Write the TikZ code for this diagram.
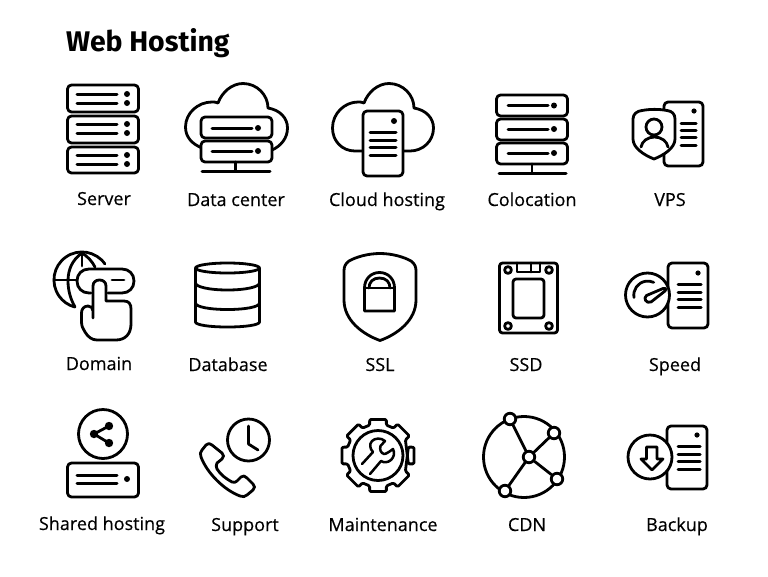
\documentclass[tikz,border=0pt]{standalone}
\usepackage{fontspec}
\setmainfont{Open Sans}
\newfontfamily\labfont[FakeBold=0.4]{Open Sans}
\newfontfamily\titlefont{Fira Sans}
\tikzset{
  ic/.style={line width=2.8pt,line cap=round,line join=round,black},
  hic/.style={line width=3pt,line cap=round,line join=round,black},
  thin ic/.style={line width=2.5pt,line cap=round,line join=round,black},
  lab/.style={font=\labfont\fontsize{18}{20}\selectfont,text=black,inner sep=0pt,anchor=base},
  ttl/.style={font=\titlefont\bfseries\fontsize{28.4}{30}\selectfont,text=black,inner sep=0pt,anchor=base west},
  dotf/.style={fill=black,draw=none},
  cdnnode/.style={circle,draw=black,line width=2.8pt,fill=white,inner sep=0pt,minimum size=11.5pt},
}
\newcommand{\rbox}[5][4pt]{\draw[ic,rounded corners=#1,fill=white] (#2,#3) rectangle (#4,#5);}
\newcommand{\hl}[3]{\foreach \yy in {#3} {\draw[hic] (#1,\yy) -- (#2,\yy);}}
\newcommand{\pdot}[3][3]{\fill[dotf] (#2,#3) circle (#1);}
\begin{document}
\begin{tikzpicture}[x=1pt,y=-1pt]
\useasboundingbox (0,0) rectangle (768,576);
\fill[white] (0,0) rectangle (768,576);
\node[ttl] (title) at (66,51) {Web Hosting};

% Server
\foreach \t/\b/\a/\c in {85/112/94/103,116/143/124/133,147/173/155/164}{
  \rbox{67.5}{\t}{138.5}{\b}
  \hl{77}{117}{\a,\c}
  \pdot{127}{\a}\pdot{127}{\c}
}
\node[lab] (l1) at (104,205) {Server};

% Data center
\draw[ic] (202,148) .. controls (192,144) and (185.5,137) .. (185.5,127) .. controls (185.5,113) and (198,102) .. (212,102) .. controls (214,102) and (216,102) .. (218,103) .. controls (222,92) and (232,83.5) .. (243,83.5) .. controls (257,83.5) and (268,95) .. (268,108) .. controls (280,110) and (287.5,118) .. (287.5,128) .. controls (287.5,138) and (281,146) .. (272,150);
\foreach \t/\b/\a in {117/138/128,141/162/151}{
  \rbox{201}{\t}{272}{\b}
  \hl{212}{252}{\a}
  \pdot{258}{\a}
}
\draw[ic] (235.5,162) -- (235.5,171);
\draw[hic] (202,171) -- (270,171);
\node[lab] (l2) at (236,206) {Data center};

% Cloud hosting
\draw[ic] (363,151) -- (355,151) .. controls (342,151) and (332.5,141) .. (332.5,128) .. controls (332.5,113) and (345,102) .. (358,102) .. controls (360,102) and (362,102) .. (364,103) .. controls (368,92) and (378,83.5) .. (389,83.5) .. controls (403,83.5) and (414,95) .. (414,108) .. controls (426,110) and (433.5,118) .. (433.5,128) .. controls (433.5,141) and (423,151) .. (410,151) -- (403,151);
\rbox{363}{111}{403}{176}
\pdot{394}{121}
\hl{370}{396}{132,140,147,155}
\node[lab] (l3) at (387,206) {Cloud hosting};

% Colocation
\foreach \t/\b/\a in {95/116/105.5,119/140/129,143/164/153}{
  \rbox{496.5}{\t}{567.5}{\b}
  \hl{508}{548}{\a}
  \pdot{554}{\a}
}
\draw[ic] (532,164) -- (532,173);
\draw[hic] (499,173) -- (566,173);
\node[lab] (l4) at (532,206) {Colocation};

% VPS
\rbox{664}{102}{703}{166}
\pdot[2.6]{694}{111}
\hl{681}{696}{123,130,137,145}
\draw[ic,fill=white] (642,110.5) .. controls (650,109) and (659,109) .. (667,110.5) .. controls (672,111) and (675,114) .. (675,119) -- (675,139) .. controls (675,148) and (664,155) .. (654,159) .. controls (644,155) and (633,148) .. (633,139) -- (633,119) .. controls (633,114) and (637,111) .. (642,110.5) -- cycle;
\draw[ic] (654,127) circle (8);
\draw[ic] (641,147) .. controls (642,141) and (648,137) .. (654.5,137) .. controls (661,137) and (667,141) .. (668,147);
\node[lab] (l5) at (670,206) {VPS};

% Domain
\draw[ic] (104.9,263.9) arc[start angle=35,end angle=255,radius=28pt];
\draw[ic] (54,280) -- (77,280);
\draw[ic] (82,253) -- (82,266);
\draw[ic] (82,253) .. controls (72,260) and (68,270) .. (68,281) .. controls (68,291) and (71,300) .. (75,307);
\draw[ic] (82,253) .. controls (87,256) and (92,261) .. (95,267);
\draw[ic] (91,293) -- (89,293) .. controls (82,293) and (77,288) .. (77,281) .. controls (77,274) and (82,269) .. (89,269) -- (122,269) .. controls (129,269) and (134,274) .. (134,281) .. controls (134,288) and (129,293) .. (122,293) -- (108,293);
\draw[ic] (112,280) -- (124,280);
\draw[ic,fill=white] (93,318) -- (93,286) .. controls (93,282) and (96,280) .. (99.5,280) .. controls (103,280) and (106,282) .. (106,286) -- (106,301) -- (124,301) .. controls (129,301) and (131,304) .. (131,309) -- (131,324) .. controls (131,334) and (125,340) .. (116,340) -- (97,340) .. controls (92,340) and (88,337) .. (85,332) .. controls (83,329) and (81.5,326) .. (81.5,322) -- (81.5,313) .. controls (81.5,309) and (84,306) .. (88,306) .. controls (91,306) and (93,308) .. (93,311);
\node[lab] (l6) at (99,370) {Domain};

% Database
\draw[ic] (195.5,268) -- (195.5,322) .. controls (195.5,325) and (210,327) .. (227.5,327) .. controls (245,327) and (259.5,325) .. (259.5,322) -- (259.5,268);
\draw[ic] (227.5,268) ellipse [x radius=32,y radius=5];
\draw[ic] (195.5,283) .. controls (195.5,287) and (210,290) .. (227.5,290) .. controls (245,290) and (259.5,287) .. (259.5,283);
\draw[ic] (195.5,303) .. controls (195.5,307) and (210,309.5) .. (227.5,309.5) .. controls (245,309.5) and (259.5,307) .. (259.5,303);
\node[lab] (l7) at (228,371) {Database};

% SSL
\draw[ic] (380,253.5) .. controls (392,253.5) and (404,257) .. (411,261) .. controls (415,264) and (416,267) .. (416,271) -- (416,300) .. controls (416,320) and (398,334) .. (380,340.5) .. controls (362,334) and (344,320) .. (344,300) -- (344,271) .. controls (344,267) and (345,264) .. (349,261) .. controls (356,257) and (368,253.5) .. (380,253.5) -- cycle;
\draw[ic] (364.5,311) -- (364.5,288) .. controls (364.5,279) and (371,272.5) .. (379.5,272.5) .. controls (388,272.5) and (394.5,279) .. (394.5,288) -- (394.5,311) -- cycle;
\draw[ic] (369,288) .. controls (369,282) and (373,278) .. (379.5,278) .. controls (386,278) and (390,282) .. (390,288);
\draw[ic] (364.5,288) -- (394.5,288);
\node[lab] (l8) at (380,371) {SSL};

% SSD
\rbox[3pt]{499.5}{263}{557.5}{333}
\rbox[3pt]{513}{279}{544}{318}
\draw[ic] (517,263) -- (517,272) -- (540,272) -- (540,263);
\draw[ic] (531,263) -- (531,272);
\foreach \p/\q in {508/270,549/270,508/326,549/326}{\draw[ic] (\p,\q) circle (3.4);}
\node[lab] (l9) at (526,371) {SSD};

% Speed
\rbox{668}{263}{708}{328}
\pdot[2.6]{698}{273}
\hl{678}{701}{284,292,299,307}
\draw[ic,fill=white] (647.5,295) circle (22);
\draw[ic] (634,297.5) arc[start angle=190,end angle=65,radius=14pt];
\draw[ic] (646.5,295.5) -- (663,288.5) .. controls (666,288) and (667,289.5) .. (665,291) -- (651,302) .. controls (646,304) and (643,298) .. (646.5,295.5) -- cycle;
\node[lab] (l10) at (675,371) {Speed};

% Shared hosting
\draw[ic] (103,434) circle (24.5);
\draw[ic] (109,426) -- (94,434) -- (109,443);
\pdot[4.2]{94}{434}\pdot[4.2]{109}{426}\pdot[4.2]{109}{443}
\rbox{67.5}{463}{138.5}{497}
\hl{77}{117}{475,483}
\pdot{127}{479}
\node[lab] (l11) at (102,530) {Shared hosting};

% Support
\draw[ic] (248.5,440) circle (21);
\draw[ic] (248.5,426) -- (248.5,444) -- (258,450);
\draw[ic] (206,445) .. controls (208,443) and (210,443) .. (212,445) -- (222,453) .. controls (224,455) and (224,457) .. (222,459) -- (217,463) .. controls (216,465) and (216,467) .. (217,469) .. controls (221,475) and (225,478) .. (232,482) .. controls (234,483) and (236,482) .. (237,481) -- (241,477) .. controls (243,475) and (245,476) .. (247,478) -- (253,484) .. controls (255,486) and (255,488) .. (253,490) -- (247,495) .. controls (245,497) and (243,497) .. (240,496) .. controls (224,490) and (207,473) .. (201,457) .. controls (200,454) and (200,452) .. (202,450) -- cycle;
\node[lab] (l12) at (245,531) {Support};

% Maintenance
\begin{scope}[shift={(378,455.5)}]
\draw[ic,rounded corners=1.2pt] (15.5:31.5) -- (13:37) -- (-13:37) -- (-15.5:31.5)
  \foreach \a in {45,90,135,180,225,270,315} { -- (\a-15.5:31.5) -- (\a-13:37) -- (\a+13:37) -- (\a+15.5:31.5) } -- cycle;
\draw[ic] (0,0) circle (25);
\end{scope}
\draw[thin ic] (362,464) -- (373,452) .. controls (370,449) and (369,444) .. (372,441) .. controls (375,438) and (381,437.5) .. (385,441) -- (380.5,446) .. controls (379.5,449) and (380.5,453) .. (384,454) .. controls (386,454) and (389,452) .. (393,449) .. controls (395,453) and (394,457) .. (391,460) .. controls (388,462.5) and (384,463) .. (381,461) -- (370,474);
\node[lab] (l13) at (383,531) {Maintenance};

% CDN
\draw[ic] (524,457) circle (40.5);
\node[cdnnode] (c0) at (529,457) {};
\node[cdnnode] (c1) at (510,419) {};
\node[cdnnode] (c2) at (554,433) {};
\node[cdnnode] (c3) at (557,479) {};
\node[cdnnode] (c4) at (505,491) {};
\foreach \n in {c1,c2,c3,c4}{\draw[ic] (c0) -- (\n);}
\node[lab] (l14) at (527,531) {CDN};

% Backup
\rbox{667}{426}{707}{489}
\pdot[2.6]{697}{435}
\hl{678}{700}{446,454,461,469}
\draw[ic,fill=white] (650,457) circle (22);
\draw[ic] (646.5,447) -- (657,447) -- (657,459) -- (663,459) -- (652,470) -- (641,459) -- (646.5,459) -- cycle;
\node[lab] (l15) at (677,531) {Backup};
\end{tikzpicture}
\end{document}
